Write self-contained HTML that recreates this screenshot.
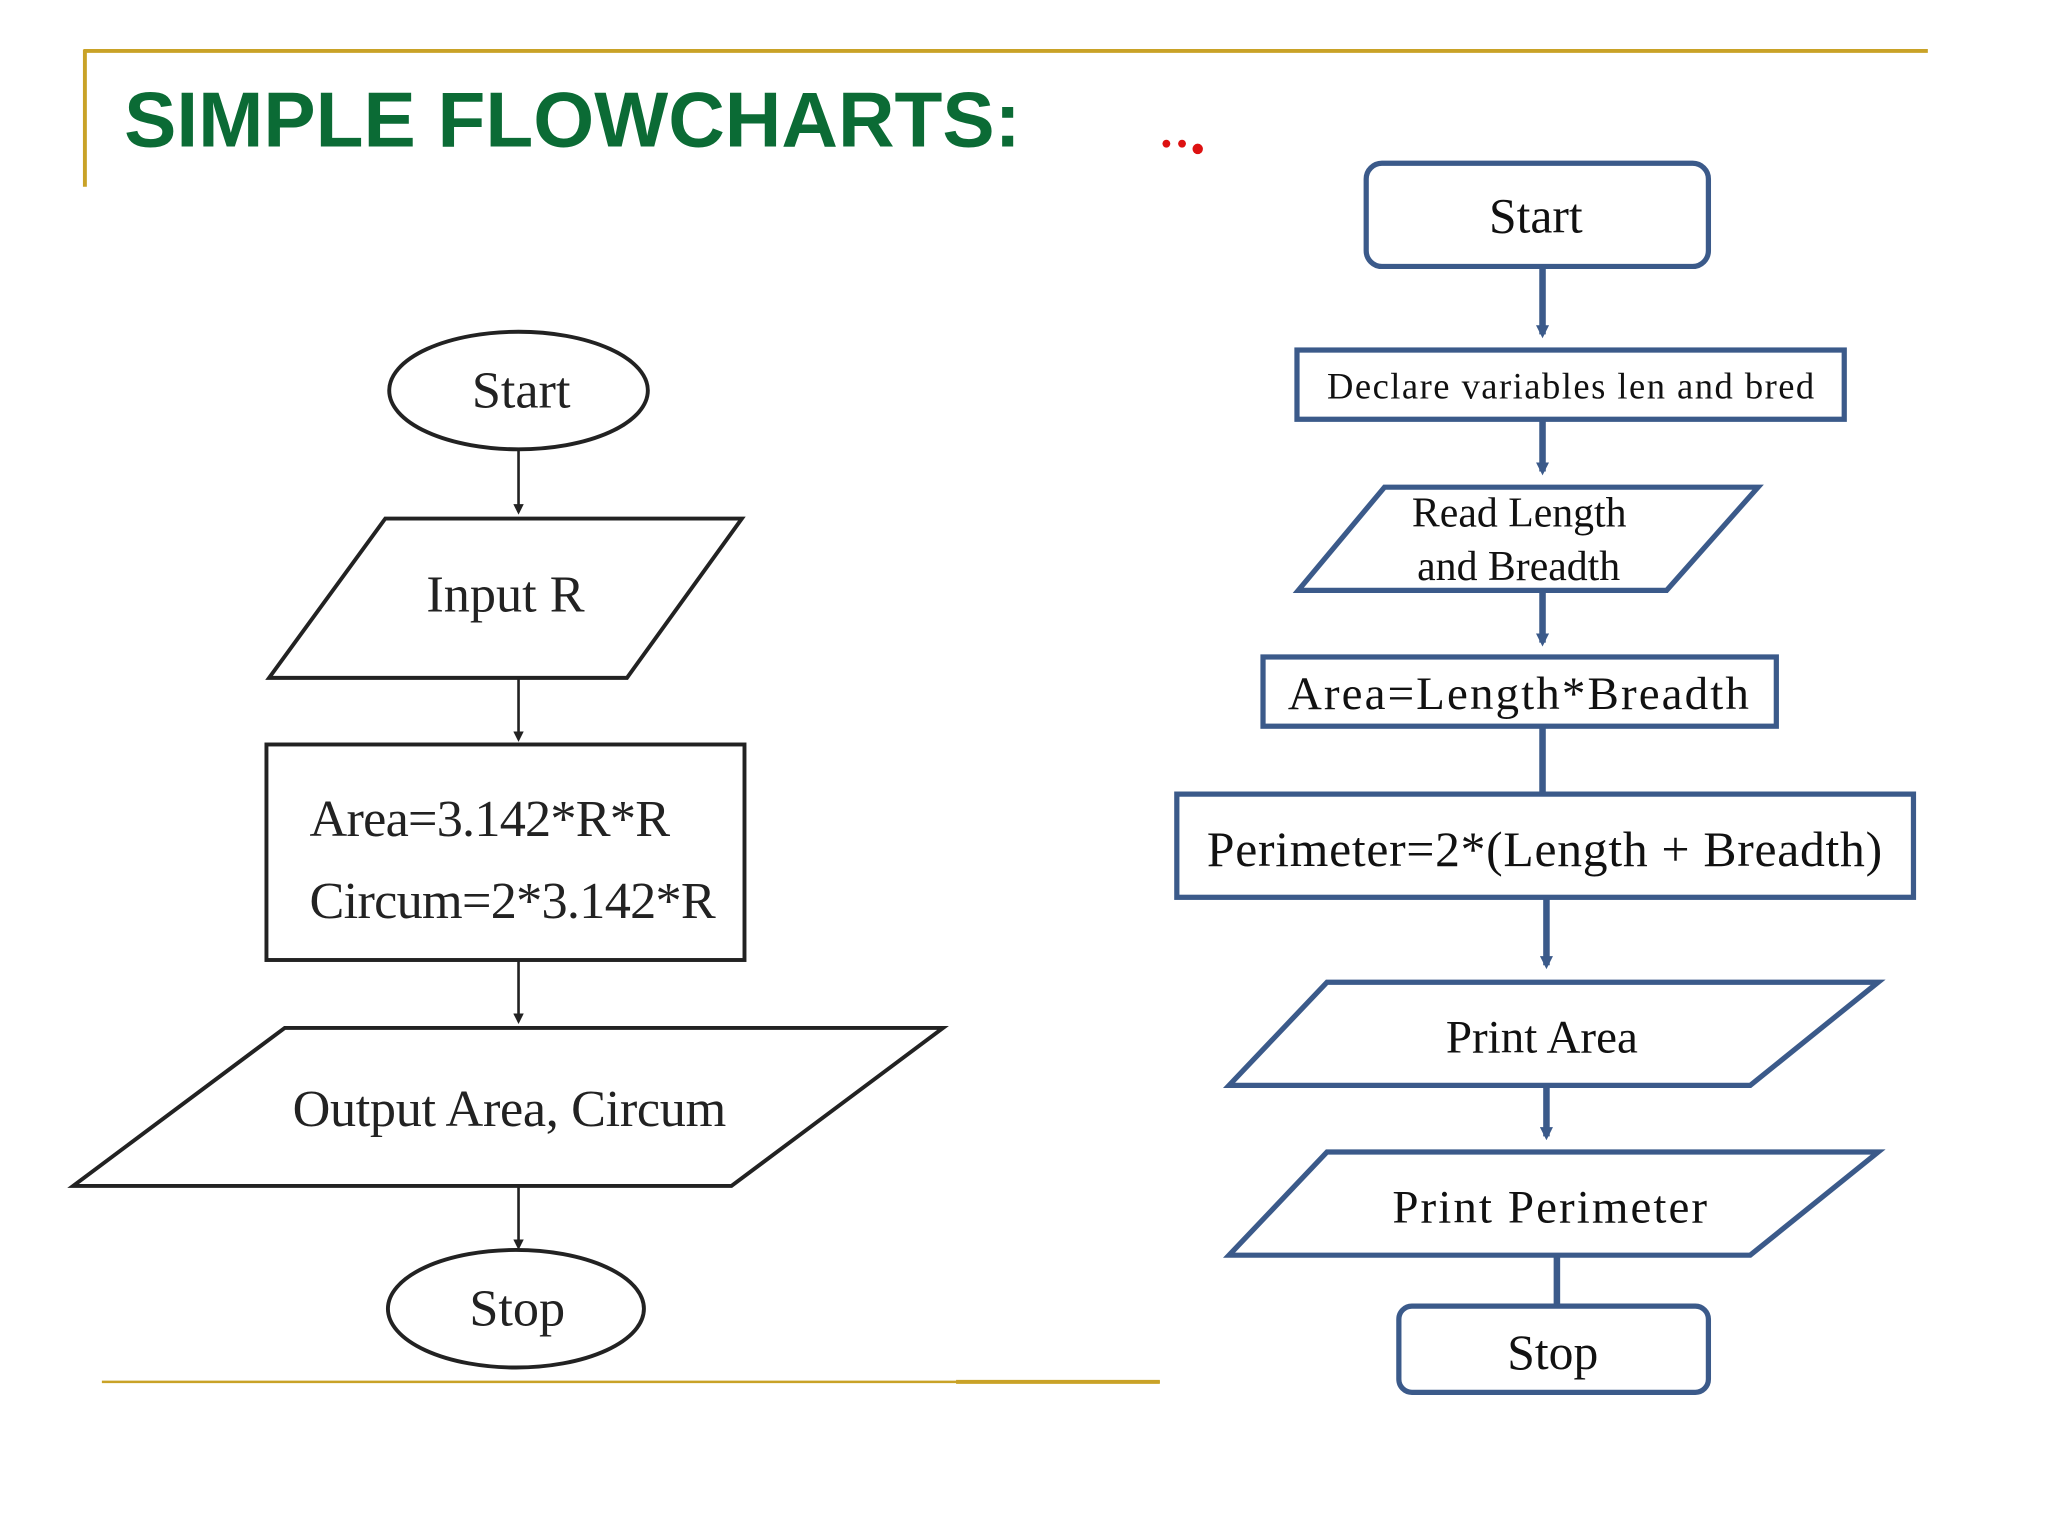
<!DOCTYPE html>
<html><head><meta charset="utf-8"><style>
html,body{margin:0;padding:0;background:#fff;width:2048px;height:1536px;overflow:hidden}
svg{display:block}
</style></head><body>
<svg width="2048" height="1536" viewBox="0 0 1568 1176" preserveAspectRatio="none" xmlns="http://www.w3.org/2000/svg">
<defs>
<marker id="ab" markerWidth="8" markerHeight="8" refX="6" refY="4" orient="auto" markerUnits="userSpaceOnUse"><path d="M0,0 L8,4 L0,8 z" fill="#222"/></marker>
<marker id="au" markerWidth="10" markerHeight="10" refX="7" refY="5" orient="auto" markerUnits="userSpaceOnUse"><path d="M0,0 L10,5 L0,10 z" fill="#3b5a8a"/></marker>
</defs>
<line x1="64" y1="39" x2="1476" y2="39" stroke="#c9a227" stroke-width="3"/>
<line x1="65" y1="38" x2="65" y2="143" stroke="#c9a227" stroke-width="3"/>
<line x1="78" y1="1058" x2="888" y2="1058" stroke="#c9a227" stroke-width="2"/>
<line x1="732" y1="1058" x2="888" y2="1058" stroke="#c9a227" stroke-width="3"/>
<text x="95" y="112" font-family="Liberation Sans, sans-serif" font-weight="bold" font-size="60" fill="#0b6b35">SIMPLE FLOWCHARTS:</text>
<circle cx="893" cy="110" r="3" fill="#d11"/><circle cx="905" cy="110" r="3" fill="#d11"/><circle cx="917" cy="114" r="4" fill="#d11"/>

<g stroke="#222" stroke-width="3" fill="none">
<ellipse cx="397" cy="299" rx="99" ry="45"/>
<line x1="397" y1="344" x2="397" y2="392" stroke-width="2" marker-end="url(#ab)"/>
<polygon points="295,397 568,397 480,519 206,519"/>
<line x1="397" y1="519" x2="397" y2="566" stroke-width="2" marker-end="url(#ab)"/>
<rect x="204" y="570" width="366" height="165"/>
<line x1="397" y1="735" x2="397" y2="782" stroke-width="2" marker-end="url(#ab)"/>
<polygon points="218,787 722,787 560,908 56,908"/>
<line x1="397" y1="908" x2="397" y2="955" stroke-width="2" marker-end="url(#ab)"/>
<ellipse cx="395" cy="1002" rx="98" ry="45"/>
</g>
<g font-family="Liberation Serif, serif" fill="#222" font-size="40">
<text x="399" y="312" text-anchor="middle">Start</text>
<text x="387" y="468" text-anchor="middle">Input R</text>
<text x="237" y="640" textLength="276">Area=3.142*R*R</text>
<text x="237" y="703" textLength="311">Circum=2*3.142*R</text>
<text x="224" y="862" textLength="332">Output Area, Circum</text>
<text x="396" y="1015" text-anchor="middle">Stop</text>
</g>

<g stroke="#3b5a8a" stroke-width="4" fill="none">
<rect x="1046" y="125" width="262" height="79" rx="12"/>
<line x1="1181" y1="204" x2="1181" y2="256" stroke-width="5" marker-end="url(#au)"/>
<rect x="993" y="268" width="419" height="53"/>
<line x1="1181" y1="321" x2="1181" y2="361" stroke-width="5" marker-end="url(#au)"/>
<polygon points="1060,373 1346,373 1276,452 994,452"/>
<line x1="1181" y1="452" x2="1181" y2="492" stroke-width="5" marker-end="url(#au)"/>
<rect x="967" y="503" width="393" height="53"/>
<line x1="1181" y1="556" x2="1181" y2="608" stroke-width="5"/>
<rect x="901" y="608" width="564" height="79"/>
<line x1="1184" y1="687" x2="1184" y2="739" stroke-width="5" marker-end="url(#au)"/>
<polygon points="1016,752 1438,752 1340,831 941,831"/>
<line x1="1184" y1="831" x2="1184" y2="870" stroke-width="5" marker-end="url(#au)"/>
<polygon points="1016,882 1438,882 1340,961 941,961"/>
<line x1="1192" y1="961" x2="1192" y2="1000" stroke-width="5"/>
<rect x="1071" y="1000" width="237" height="66" rx="10"/>
</g>
<g font-family="Liberation Serif, serif" fill="#111">
<text x="1140" y="178" font-size="38">Start</text>
<text x="1016" y="305" font-size="28" textLength="373">Declare variables len and bred</text>
<text x="1081" y="403" font-size="32">Read Length</text>
<text x="1085" y="444" font-size="32">and Breadth</text>
<text x="986" y="543" font-size="36" textLength="353">Area=Length*Breadth</text>
<text x="924" y="663" font-size="38" textLength="517">Perimeter=2*(Length + Breadth)</text>
<text x="1107" y="806" font-size="36">Print Area</text>
<text x="1066" y="936" font-size="36" textLength="241">Print Perimeter</text>
<text x="1154" y="1048" font-size="38">Stop</text>
</g>
</svg>
</body></html>
